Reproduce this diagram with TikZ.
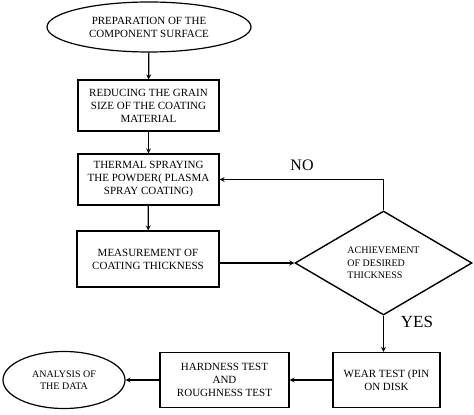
\documentclass[tikz,border=0pt]{standalone}
\usepackage{fontspec}
\setmainfont{Liberation Serif}
\usepackage{tikz}
\usetikzlibrary{shapes.geometric}

\begin{document}
\begin{tikzpicture}[x=1pt,y=1pt,
        box/.style={draw,line width=1.2pt,align=center,inner sep=0pt,font=\fontsize{11}{13}\selectfont},
        oval/.style={box,ellipse},
        choice/.style={draw,diamond,line width=1.4pt,align=left,inner sep=0pt,font=\fontsize{10}{12.5}\selectfont},
        link/.style={line width=1.2pt,->,>=stealth}]
        \useasboundingbox (0,0) rectangle (474,415);
        \node [oval,minimum width=204pt,minimum height=50pt] (prep) at (149,388) {PREPARATION OF THE\\COMPONENT SURFACE};
        \node [box,minimum width=141pt,minimum height=51pt] (reduce) at (148.5,309.5) {REDUCING THE GRAIN\\SIZE OF THE COATING\\MATERIAL};
        \node [box,minimum width=141pt,minimum height=51pt] (spray) at (148.5,235.5) {THERMAL SPRAYING\\THE POWDER( PLASMA\\SPRAY COATING)};
        \node [box,minimum width=142pt,minimum height=56pt] (measure) at (148,156) {MEASUREMENT OF\\COATING THICKNESS};
        \node [choice,minimum width=177pt,minimum height=104pt] (check) at (383.5,152) {ACHIEVEMENT\\OF DESIRED\\THICKNESS};
        \node [box,minimum width=107pt,minimum height=55pt] (wear) at (386.5,35) {WEAR TEST (PIN\\ON DISK};
        \node [box,minimum width=129pt,minimum height=55pt] (hard) at (224.5,35) {HARDNESS TEST\\AND\\ROUGHNESS TEST};
        \node [oval,font=\fontsize{10}{12.5}\selectfont,minimum width=122pt,minimum height=57pt] (analysis) at (64,35) {ANALYSIS OF\\THE DATA};
        \node [font=\fontsize{16}{16}\selectfont] (no) at (302,250) {NO};
        \node [font=\fontsize{17}{17}\selectfont] (yes) at (417,93) {YES};

        \draw [link] (prep) -- (reduce);
        \draw [link] (reduce) -- (spray);
        \draw [link] (spray) -- (measure);
        \draw [link] (measure.east |- check.west) -- (check.west);
        \draw [link] (check.north) |- (spray.east);
        \draw [link] (check.south) -- (check.south |- wear.north);
        \draw [link] (wear) -- (hard);
        \draw [link] (hard) -- (analysis);
    \end{tikzpicture}
\end{document}
